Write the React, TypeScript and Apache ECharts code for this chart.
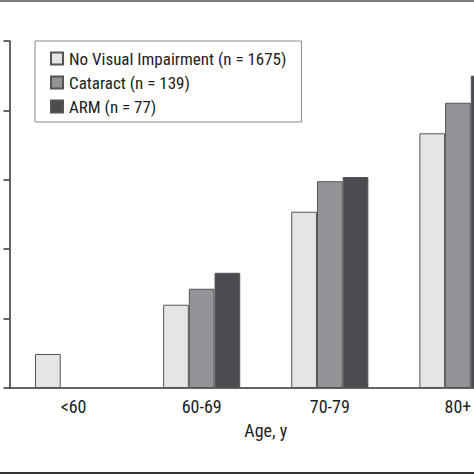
import React, { useEffect, useRef } from "react";
import * as echarts from "echarts";

const categories = ["<60", "60-69", "70-79", "80+"];
const seriesNames = [
  "No Visual Impairment (n = 1675)",
  "Cataract (n = 139)",
  "ARM (n = 77)",
];
const nviValues = [4.9, 12.0, 25.4, 36.7];
const cataractValues = [null, 14.3, 29.8, 41.1];
const armValues = [null, 16.6, 30.4, 45.0];
const yTicks = [0, 10, 20, 30, 40, 50];

const FONT = "'Liberation Sans Narrow', 'Arial Narrow', 'Roboto Condensed', 'Liberation Sans', sans-serif";

export default function App() {
  const ref = useRef<HTMLDivElement>(null);
  useEffect(() => {
    if (!ref.current) return;
    const chart = echarts.init(ref.current, undefined, { renderer: "svg" });
    const fills = ["#e4e5e7", "#939498", "#4b4c4f"];
    const data = [nviValues, cataractValues, armValues];
    chart.setOption({
      animation: false,
      backgroundColor: "#ffffff",
      grid: { left: 9.5, right: 0, top: 41, bottom: 86, containLabel: false },
      legend: {
        orient: "vertical",
        left: 35,
        top: 41,
        data: seriesNames,
        itemWidth: 12,
        itemHeight: 12,
        itemGap: 7,
        padding: [9, 15, 7, 15],
        borderColor: "#8a8a8a",
        borderWidth: 1,
        icon: "rect",
        textStyle: {
          fontFamily: FONT,
          fontSize: 17,
          color: "#222",
          padding: [0, 0, 0, 1],
        },
      },
      xAxis: {
        type: "category",
        data: categories,
        name: "Age, y",
        nameLocation: "middle",
        nameGap: 33,
        nameTextStyle: { fontFamily: FONT, fontSize: 18, color: "#222" },
        axisLine: { lineStyle: { color: "#333", width: 1.5 } },
        axisTick: { show: false },
        axisLabel: { fontFamily: FONT, fontSize: 18, color: "#222", margin: 9 },
      },
      yAxis: {
        type: "value",
        min: yTicks[0],
        max: yTicks[yTicks.length - 1],
        interval: yTicks[1] - yTicks[0],
        axisLine: { show: true, lineStyle: { color: "#333", width: 1.5 } },
        axisTick: { show: true, length: 6, lineStyle: { color: "#333", width: 1.5 } },
        axisLabel: { show: false },
        splitLine: { show: false },
      },
      series: seriesNames.map((name, i) => ({
        name,
        type: "bar",
        data: data[i],
        barWidth: 25.7,
        barGap: "0%",
        itemStyle: { color: fills[i], borderColor: "#555", borderWidth: 1 },
      })),
      graphic: [
        { type: "rect", shape: { x: 0, y: 0, width: 522, height: 2 }, style: { fill: "#7f7f7f" }, silent: true },
        { type: "rect", shape: { x: 0, y: 472, width: 522, height: 2 }, style: { fill: "#333" }, silent: true },
      ],
    });
    return () => chart.dispose();
  }, []);
  return (
    <div style={{ position: "fixed", left: 0, top: 0, width: 474, height: 474, overflow: "hidden" }}>
      <div ref={ref} style={{ width: 522, height: 474 }} />
    </div>
  );
}
